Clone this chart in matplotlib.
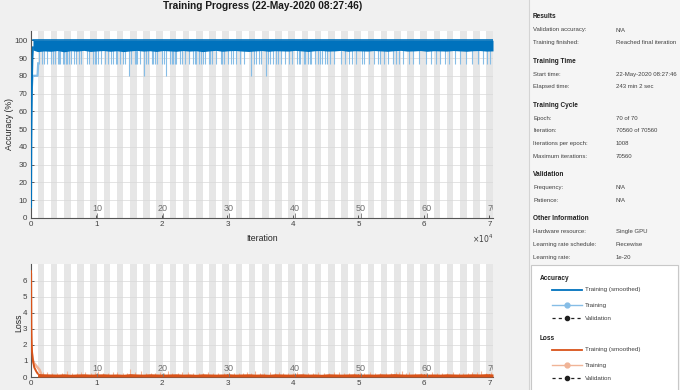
import matplotlib.pyplot as plt
from matplotlib.patches import Rectangle

plt.rcParams['font.family'] = ['Liberation Sans', 'DejaVu Sans']

# ---- data ----
n_epochs = 70
iters_per_epoch = 1008
epoch_marks = [10, 20, 30, 40, 50, 60, 70]
x_ticks = [0, 1, 2, 3, 4, 5, 6, 7]          # x 10^4 iterations
acc_ticks = [0, 10, 20, 30, 40, 50, 60, 70, 80, 90, 100]
loss_ticks = [0, 1, 2, 3, 4, 5, 6]

# first epoch (ramp up)
acc_early_iter = [0, 30, 80, 150, 220, 300]
acc_early_smooth = [6, 42, 62, 78, 90, 96]
acc_early_train_iter = [0, 40, 120, 250, 330, 700, 1000, 1100]
acc_early_train = [7, 53, 73, 80, 80, 80, 80, 87]

# smoothed accuracy band: starts at acc_band_start, then one value per epoch end
acc_band_start = 300
acc_max = 100
acc_band_lo = [94.5,
               93.6, 94.0, 93.8, 94.2, 93.5, 94.1, 93.9, 94.3, 93.7, 94.0,
               94.2, 93.8, 94.1, 93.6, 94.0, 94.3, 93.9, 94.1, 93.7, 94.2,
               94.0, 93.8, 94.2, 93.9, 94.1, 93.6, 94.0, 94.3, 93.8, 94.1,
               94.2, 93.9, 93.7, 94.0, 94.2, 93.8, 94.1, 94.0, 93.9, 94.3,
               94.0, 93.7, 94.1, 94.2, 93.9, 94.0, 94.3, 93.8, 94.1, 94.0,
               93.9, 94.2, 94.0, 93.8, 94.1, 94.3, 93.9, 94.0, 94.2, 93.8,
               94.1, 94.0, 93.9, 94.2, 94.0, 93.8, 94.1, 94.2, 93.9, 94.0]

# mini-batch accuracy dips (light blue spikes)
acc_dip87 = 86.7
acc_dip87_iter = [1280, 1640, 2000, 2400, 3030, 3430, 3700, 4050, 4300, 4460,
                  4870, 5000, 5280, 5500, 5740, 6100, 6500, 6920, 7330, 7700,
                  8560, 8900, 9490, 9700, 9900, 10300, 10700, 11330, 11700, 12200,
                  12560, 12920, 13200, 13590, 14000, 14410, 15300, 15850, 16000, 16260,
                  16670, 17600, 17900, 18410, 18700, 18920, 19300, 19950, 20300, 21280,
                  21500, 21690, 22000, 22210, 22720, 23000, 23540, 24100, 24720, 25000,
                  25230, 25590, 26000, 26300, 26620, 27130, 27400, 27640, 28200, 28970,
                  29200, 29490, 30100, 30500, 30870, 31300, 31900, 32500, 34000, 34310,
                  34820, 35200, 36200, 36510, 37030, 37400, 37690, 38200, 38720, 39330,
                  39800, 40620, 40900, 41130, 41640, 41900, 42310, 42600, 42820, 43300,
                  43850, 44100, 44460, 44900, 45230, 45740, 46300, 47300, 48000, 48600,
                  49080, 49700, 50500, 50920, 51600, 52400, 52920, 53300, 53850, 54500,
                  55230, 55700, 56150, 56800, 57700, 58310, 59200, 60300, 61080, 61850,
                  62500, 63200, 63850, 64700, 65500, 66460, 67300, 68200, 69080, 69690,
                  70100]
acc_dip80 = 80.0
acc_dip80_iter = [14970, 17280, 20620, 33590, 35850]

# loss, first epoch
loss_early_iter = [0, 15, 40, 80, 150, 300, 500, 800, 1008]
loss_early_smooth = [6.6, 4.8, 3.2, 2.3, 1.6, 1.0, 0.6, 0.35, 0.22]
loss_early_train_iter = [0, 10, 30, 60, 100, 200, 400, 700, 1000, 1300, 1500]
loss_early_train = [6.4, 5.5, 2.8, 2.0, 1.5, 1.2, 0.9, 0.75, 0.6, 0.45, 0.25]

# smoothed loss band per epoch end (upper edge), bottom sits at 0
loss_min = 0.0
loss_band_hi = [0.22, 0.20, 0.19, 0.18, 0.20, 0.17, 0.19, 0.20, 0.18, 0.19,
                0.20, 0.18, 0.19, 0.17, 0.21, 0.19, 0.18, 0.20, 0.19, 0.18,
                0.19, 0.20, 0.18, 0.19, 0.17, 0.20, 0.19, 0.18, 0.19, 0.20,
                0.18, 0.19, 0.20, 0.18, 0.19, 0.17, 0.20, 0.19, 0.18, 0.19,
                0.20, 0.18, 0.19, 0.17, 0.20, 0.19, 0.18, 0.19, 0.20, 0.18,
                0.19, 0.18, 0.20, 0.19, 0.21, 0.19, 0.18, 0.19, 0.20, 0.18,
                0.19, 0.18, 0.20, 0.19, 0.18, 0.19, 0.20, 0.19, 0.21, 0.19]

# mini-batch loss spikes (light orange)
loss_spike_iter = [1800, 2500, 3200, 3900, 4700, 5540, 6300, 7000, 7700, 8300,
                   9100, 9700, 10300, 11000, 11800, 12500, 13200, 14000, 14600, 15100,
                   15900, 16800, 17500, 18300, 19000, 19700, 20300, 20900, 21600, 22400,
                   23100, 24000, 24800, 25600, 26300, 27000, 27800, 28600, 29400, 30200,
                   31000, 31700, 32400, 33000, 33600, 34200, 34900, 35600, 36500, 37200,
                   37800, 38500, 39200, 40000, 40700, 41500, 42300, 43100, 43900, 44700,
                   45500, 46200, 47000, 47800, 48600, 49400, 50200, 50900, 51700, 52500,
                   53300, 54200, 55000, 55700, 56200, 56700, 57200, 57800, 58600, 59500,
                   60300, 61200, 62000, 62800, 63600, 64500, 65300, 66000, 66700, 67400,
                   68100, 68800, 69500, 70200]
loss_spike_val = [0.30, 0.32, 0.26, 0.28, 0.24, 0.36, 0.27, 0.25, 0.29, 0.30,
                  0.26, 0.31, 0.38, 0.25, 0.27, 0.29, 0.30, 0.24, 0.28, 0.52,
                  0.30, 0.40, 0.26, 0.28, 0.25, 0.32, 0.27, 0.36, 0.24, 0.26,
                  0.29, 0.30, 0.25, 0.27, 0.28, 0.33, 0.24, 0.25, 0.27, 0.30,
                  0.26, 0.28, 0.24, 0.31, 0.27, 0.38, 0.25, 0.27, 0.29, 0.26,
                  0.34, 0.25, 0.26, 0.28, 0.30, 0.24, 0.28, 0.26, 0.32, 0.25,
                  0.27, 0.29, 0.30, 0.24, 0.26, 0.28, 0.29, 0.25, 0.31, 0.27,
                  0.26, 0.28, 0.25, 0.34, 0.30, 0.36, 0.28, 0.32, 0.26, 0.27,
                  0.25, 0.30, 0.26, 0.26, 0.28, 0.33, 0.25, 0.28, 0.27, 0.30,
                  0.29, 0.36, 0.27, 0.30]

title = 'Training Progress (22-May-2020 08:27:46)'
info_sections = [
    ('Results', [('Validation accuracy:', 'N/A'),
                 ('Training finished:', 'Reached final iteration')]),
    ('Training Time', [('Start time:', '22-May-2020 08:27:46'),
                       ('Elapsed time:', '243 min 2 sec')]),
    ('Training Cycle', [('Epoch:', '70 of 70'),
                        ('Iteration:', '70560 of 70560'),
                        ('Iterations per epoch:', '1008'),
                        ('Maximum iterations:', '70560')]),
    ('Validation', [('Frequency:', 'N/A'),
                    ('Patience:', 'N/A')]),
    ('Other Information', [('Hardware resource:', 'Single GPU'),
                           ('Learning rate schedule:', 'Piecewise'),
                           ('Learning rate:', '1e-20')]),
]

acc_dark = '#0072bd'
acc_light = '#86bde6'
loss_dark = '#d95319'
loss_light = '#f0b497'
stripe = '#e6e6e6'
bg = '#f0f0f0'

max_iter = n_epochs * iters_per_epoch
epoch_ends = [e * iters_per_epoch for e in range(1, n_epochs + 1)]
acc_band_x = [acc_band_start] + epoch_ends

fig = plt.figure(figsize=(6.8, 3.9), dpi=100, facecolor=bg)
ax1 = fig.add_axes([31 / 680, 1 - 218 / 390, 462 / 680, 187 / 390])
ax2 = fig.add_axes([31 / 680, 1 - 377 / 390, 462 / 680, 113 / 390])


def style_axes(ax, ticks, top, mark_h, mark_y):
    ax.set_facecolor('white')
    for e in range(2, n_epochs + 1, 2):
        ax.axvspan((e - 1) * iters_per_epoch, e * iters_per_epoch,
                   color=stripe, lw=0, zorder=0)
    ax.set_xlim(0, max_iter)
    ax.set_ylim(0, top)
    ax.set_yticks(ticks)
    ax.set_xticks([t * 1e4 for t in x_ticks])
    ax.set_xticklabels([str(t) for t in x_ticks])
    ax.yaxis.grid(True, color='#d9d9d9', lw=0.5, zorder=0.5)
    ax.set_axisbelow(True)
    for s in ['top', 'right']:
        ax.spines[s].set_visible(False)
    for s in ['left', 'bottom']:
        ax.spines[s].set_color('#555555')
        ax.spines[s].set_linewidth(0.8)
    ax.tick_params(direction='in', length=2.5, width=0.6, labelsize=5.8,
                   colors='#404040', pad=2.5)
    for m in epoch_marks:
        xm = m * iters_per_epoch
        ax.vlines(xm, 0, mark_h, color='#777777', lw=0.6, zorder=4)
        ax.text(xm, mark_y, str(m), ha='center', va='bottom', fontsize=6.5,
                color='#707070', zorder=4, clip_on=True)


style_axes(ax1, acc_ticks, 105.2, 2.6, 2.8)
style_axes(ax2, loss_ticks, 7.05, 0.22, 0.25)

# accuracy
ax1.vlines(acc_dip87_iter, acc_dip87, 95, color=acc_light, lw=0.8, zorder=2)
ax1.vlines(acc_dip80_iter, acc_dip80, 95, color=acc_light, lw=0.8, zorder=2)
ax1.plot(acc_early_train_iter, acc_early_train, color=acc_light, lw=1.6, zorder=2)
ax1.fill_between(acc_band_x, acc_band_lo, acc_max, color=acc_dark, lw=0, zorder=3)
ax1.plot([acc_band_x[0], acc_band_x[-1]], [acc_max, acc_max], color=acc_dark,
         lw=1.2, zorder=3)
ax1.plot(acc_early_iter, acc_early_smooth, color=acc_dark, lw=1.4, zorder=3)

# loss
ax2.plot(loss_early_train_iter, loss_early_train, color=loss_light, lw=1.8, zorder=2)
ax2.vlines(loss_spike_iter, 0, loss_spike_val, color=loss_light, lw=0.8, zorder=2)
ax2.fill_between(epoch_ends, loss_min, loss_band_hi, color=loss_dark, lw=0, zorder=3)
ax2.plot(loss_early_iter, loss_early_smooth, color=loss_dark, lw=1.4, zorder=3)

ax1.text(-0.046, 0.5, 'Accuracy (%)', transform=ax1.transAxes, rotation=90,
         ha='center', va='center', fontsize=6.3, color='#262626')
ax1.text(0.5, -0.107, 'Iteration', transform=ax1.transAxes, ha='center',
         va='center', fontsize=6.3, color='#262626')
ax1.text(1.0, -0.113, r'$\times10^{4}$', transform=ax1.transAxes, ha='right',
         va='center', fontsize=5.5, color='#404040')
ax2.text(-0.026, 0.48, 'Loss', transform=ax2.transAxes, rotation=90,
         ha='center', va='center', fontsize=6.3, color='#262626')

fig.text(262.5 / 680, 1 - 6 / 390, title, ha='center', va='center',
         fontsize=7.3, fontweight='bold', color='#1a1a1a')

# ---- right side panel, pixel coordinates ----
ov = fig.add_axes([0, 0, 1, 1], facecolor='none')
ov.set_xlim(0, 680)
ov.set_ylim(390, 0)
ov.axis('off')
ov.add_patch(Rectangle((529, -2), 160, 400, facecolor='#f5f5f5',
                       edgecolor='#d4d4d4', lw=0.8))

y = 17
for header, rows in info_sections:
    ov.text(533, y, header, fontsize=4.7, fontweight='bold', color='#202020',
            va='center')
    y += 13
    for label, value in rows:
        ov.text(533, y, label, fontsize=4.3, color='#404040', va='center')
        ov.text(616, y, value, fontsize=4.3, color='#404040', va='center')
        y += 12.7
    y += 5.7

ov.add_patch(Rectangle((531, 265), 147, 130, facecolor='white',
                       edgecolor='#c8c8c8', lw=0.8, zorder=5))

legend_groups = [
    ('Accuracy', 278, acc_dark, acc_light),
    ('Loss', 338, loss_dark, loss_light),
]
for name, y0, dark, light in legend_groups:
    ov.text(540, y0, name, fontsize=4.7, fontweight='bold', color='#202020',
            va='center', zorder=6)
    ys = [y0 + 12, y0 + 27, y0 + 40]
    ov.plot([552, 582], [ys[0], ys[0]], color=dark, lw=1.3, zorder=6)
    ov.plot([552, 582], [ys[1], ys[1]], color=light, lw=1.0, zorder=6)
    ov.plot([567], [ys[1]], 'o', color=light, ms=3.5, zorder=6)
    ov.plot([552, 582], [ys[2], ys[2]], '--', color='#202020', lw=0.9,
            dashes=(2.5, 2.5), zorder=6)
    ov.plot([567], [ys[2]], 'o', color='#202020', ms=3, zorder=6)
    for yy, lab in zip(ys, ['Training (smoothed)', 'Training', 'Validation']):
        ov.text(585, yy, lab, fontsize=4.5, color='#404040', va='center', zorder=6)

fig.savefig('out.png', dpi=100, facecolor=bg)
